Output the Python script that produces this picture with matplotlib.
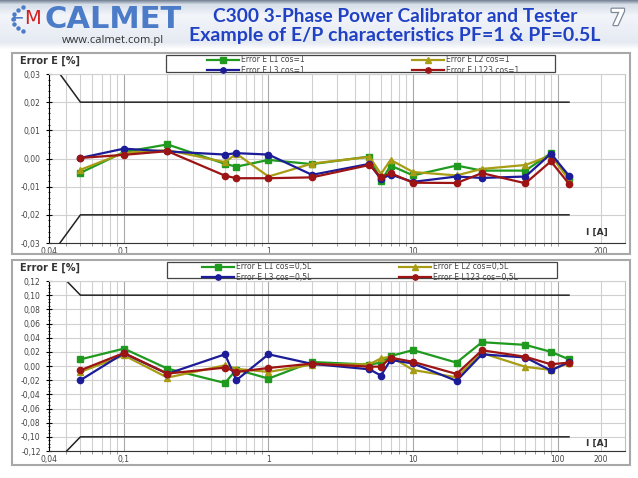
import numpy as np
import matplotlib
matplotlib.use("Agg")
import matplotlib.pyplot as plt
from matplotlib.patches import Rectangle
from matplotlib.lines import Line2D
import matplotlib.patheffects as pe

# measurement currents [A]
current = [0.05, 0.1, 0.2, 0.5, 0.6, 1, 2, 5, 6, 7, 10, 20, 30, 60, 90, 120]

# error E [%] at PF=1
pf1_l1 = [-0.0051, 0.0023, 0.0050, -0.0019, -0.0029, -0.0005, -0.0020, 0.0007,
          -0.0081, -0.0025, -0.0060, -0.0025, -0.0043, -0.0043, 0.0019, -0.0070]
pf1_l2 = [-0.0040, 0.0020, 0.0030, -0.0013, 0.0017, -0.0064, -0.0018, 0.0006,
          -0.0055, -0.0005, -0.0048, -0.0060, -0.0037, -0.0023, 0.0011, -0.0076]
pf1_l3 = [0.0002, 0.0035, 0.0025, 0.0014, 0.0019, 0.0014, -0.0058, -0.0019,
          -0.0073, -0.0057, -0.0083, -0.0064, -0.0069, -0.0064, 0.0017, -0.0061]
pf1_l123 = [0.0002, 0.0013, 0.0026, -0.0061, -0.0070, -0.0070, -0.0067, -0.0023,
            -0.0067, -0.0052, -0.0086, -0.0087, -0.0052, -0.0088, -0.0010, -0.0090]

# error E [%] at PF=0.5L
pf05_l1 = [0.0094, 0.0245, -0.0037, -0.0240, -0.0050, -0.0178, 0.0056, 0.0020,
           0.0048, 0.0140, 0.0225, 0.0048, 0.0336, 0.0298, 0.0200, 0.0094]
pf05_l2 = [-0.0084, 0.0150, -0.0164, 0.0010, -0.0040, -0.0084, 0.0020, 0.0024,
           0.0108, 0.0132, -0.0056, -0.0160, 0.0183, -0.0012, -0.0055, 0.0040]
pf05_l3 = [-0.0200, 0.0180, -0.0110, 0.0165, -0.0200, 0.0165, 0.0030, -0.0047,
           -0.0135, 0.0085, 0.0036, -0.0210, 0.0165, 0.0120, -0.0062, 0.0056]
pf05_l123 = [-0.0060, 0.0183, -0.0107, -0.0023, -0.0084, -0.0028, 0.0034, -0.0009,
             -0.0009, 0.0118, 0.0059, -0.0112, 0.0222, 0.0130, 0.0024, 0.0048]

# accuracy limit lines
limit_x = [0.03, 0.05, 120]
limit_pf1 = [0.0356, 0.02, 0.02]
limit_pf05 = [0.1466, 0.10, 0.10]

labels_pf1 = ["Error E L1 cos=1", "Error E L2 cos=1", "Error E L3 cos=1", "Error E L123 cos=1"]
labels_pf05 = ["Error E L1 cos=0,5L", "Error E L2 cos=0,5L", "Error E L3 cos=0,5L", "Error E L123 cos=0,5L"]

colors = ['#1f9a1f', '#a89c14', '#1c1c98', '#9c1414']
markers = ['s', '^', 'o', 'o']
msizes = [5, 5, 4.5, 4.5]

W, H = 638, 478
fig = plt.figure(figsize=(W / 100, H / 100), dpi=100)


def fx(px):
    return px / W


def fy(py):
    return 1 - py / H


# header background
hdr = fig.add_axes([0, fy(50), 1, 50 / H])
rows = np.linspace(0, 1, 50)
stops_y = [0, 0.08, 0.3, 0.85, 1.0]
stops_c = [(0.48, 0.53, 0.60), (0.84, 0.87, 0.91), (0.95, 0.96, 0.98), (0.90, 0.92, 0.95), (1, 1, 1)]
grad = np.array([[np.interp(r, stops_y, [c[k] for c in stops_c]) for k in range(3)] for r in rows])
hdr.imshow(grad[:, None, :], aspect='auto')
hdr.axis('off')

logo_blue = '#4c7cc8'
ang = np.radians(np.linspace(110, 250, 7))
fig.add_artist(Line2D(fx(28 + 15 * np.cos(ang)), fy(19 - 13 * np.sin(ang)), transform=fig.transFigure,
                      ls='none', marker='o', ms=2.2, color=logo_blue))
fig.text(fx(17), fy(18), '\u2190', fontsize=10, color=logo_blue, ha='center', va='center', fontweight='bold')
fig.text(fx(32), fy(19), 'M', fontsize=14, color='#d42020', ha='center', va='center')
fig.text(fx(45), fy(19), 'CALMET', fontsize=22, fontweight='bold', color=logo_blue, ha='left', va='center')
fig.text(fx(62), fy(41), 'www.calmet.com.pl', fontsize=8, color='#333333', ha='left', va='center',
         family='Open Sans')

title_blue = '#2141c4'
fig.text(fx(395), fy(17), 'C300 3-Phase Power Calibrator and Tester', fontsize=13.8, fontweight='bold',
         color=title_blue, ha='center', va='center', family='Lato')
fig.text(fx(395), fy(36), 'Example of E/P characteristics PF=1 & PF=0.5L', fontsize=14, fontweight='bold',
         color=title_blue, ha='center', va='center', family='Lato')
fig.text(fx(618), fy(19), '7', fontsize=16, fontweight='bold', color='white', ha='center', va='center',
         path_effects=[pe.withStroke(linewidth=1.8, foreground='#7d8898')])

grid_x = [v * d for d in (0.01, 0.1, 1, 10) for v in range(1, 10) if v * d >= 0.04] + [100, 200]
decades = [0.1, 1, 10, 100]
xmin, xmax = 0.0303, 293


def draw_chart(ax, frame, legend_box, leg_x, colspace, label_y, unit_y, series, labels, limit,
               ylim, ystep, yminor, xticks, xlabels):
    fig.add_artist(Rectangle((fx(frame[0]), fy(frame[3])), fx(frame[2]) - fx(frame[0]),
                             (frame[3] - frame[1]) / H, transform=fig.transFigure,
                             fill=False, edgecolor='#a8a8a8', lw=1.5))
    ax.set_xscale('log')
    ax.set_xlim(xmin, xmax)
    ax.set_ylim(-ylim, ylim)
    for g in grid_x:
        ax.axvline(g, color='#a8a8a8' if g in decades else '#d0d0d0', lw=0.8, zorder=0)
    yt = np.arange(-ylim, ylim + ystep / 2, ystep)
    for v in yt:
        ax.axhline(v, color='#d0d0d0', lw=0.8, zorder=0)
    ax.set_yticks(yt)
    ax.set_yticklabels([('%.2f' % v).replace('.', ',').replace('-0,00', '0,00') for v in yt])
    ax.set_yticks(np.arange(-ylim, ylim + yminor / 2, yminor), minor=True)
    ax.set_xticks(xticks)
    ax.set_xticklabels(xlabels)
    ax.set_xticks(grid_x, minor=True)
    ax.xaxis.set_minor_formatter(plt.NullFormatter())
    ax.tick_params(axis='y', which='major', direction='inout', length=4, width=0.8, pad=4,
                   labelsize=5.5, labelcolor='#444444')
    ax.tick_params(axis='y', which='minor', direction='inout', length=2, width=0.6)
    ax.tick_params(axis='x', which='major', length=0, pad=3, labelsize=5.5, labelcolor='#444444')
    ax.tick_params(axis='x', which='minor', direction='out', length=2, width=0.6, color='#888888')
    ax.spines['left'].set_color('black')
    ax.spines['bottom'].set_color('#333333')
    ax.spines['top'].set_color('#d0d0d0')
    ax.spines['right'].set_color('#c0c0c0')

    ax.plot(limit_x, limit, color='#222222', lw=1.1, zorder=2)
    ax.plot(limit_x, [-v for v in limit], color='#222222', lw=1.1, zorder=2)

    lines = []
    for vals, c, m, ms in zip(series, colors, markers, msizes):
        ln, = ax.plot(current, vals, color=c, marker=m, ms=ms, lw=1.6, zorder=3, clip_on=False)
        lines.append(ln)

    fig.add_artist(Rectangle((fx(legend_box[0]), fy(legend_box[3])), fx(legend_box[2]) - fx(legend_box[0]),
                             (legend_box[3] - legend_box[1]) / H, transform=fig.transFigure,
                             facecolor='white', edgecolor='#444444', lw=0.9))
    order = [0, 2, 1, 3]
    fig.legend([lines[i] for i in order], [labels[i] for i in order], ncol=2, loc='upper left',
               bbox_to_anchor=(fx(leg_x), fy(legend_box[1] + 0.5)), frameon=False,
               handlelength=4.2, handletextpad=0.3, columnspacing=colspace, labelspacing=0.2,
               borderpad=0, borderaxespad=0, prop={'size': 5.5}, markerscale=0.85,
               labelcolor='#444444')

    fig.text(fx(20), fy(label_y), 'Error E [%]', fontsize=7, fontweight='bold', color='#333333',
             ha='left', va='center')
    fig.text(fx(586), fy(unit_y), 'I [A]', fontsize=6.5, fontweight='bold', color='#333333',
             ha='left', va='center')


ax1 = fig.add_axes([fx(49), fy(243), (625 - 49) / W, (243 - 74) / H])
draw_chart(ax1, (12, 53, 630, 254), (166, 55, 555, 72), 207, 14.0, 61, 232,
           [pf1_l1, pf1_l2, pf1_l3, pf1_l123], labels_pf1, limit_pf1, 0.03, 0.01, 0.002,
           [xmin, 0.1, 1, 10, 200], ['0,04', '0,1', '1', '10', '200'])

ax2 = fig.add_axes([fx(49), fy(451), (625 - 49) / W, (451 - 281) / H])
draw_chart(ax2, (12, 260, 630, 465), (167, 262, 557, 278), 202, 11.4, 268, 443,
           [pf05_l1, pf05_l2, pf05_l3, pf05_l123], labels_pf05, limit_pf05, 0.12, 0.02, 0.005,
           [xmin, 0.1, 1, 10, 100, 200], ['0,04', '0,1', '1', '10', '100', '200'])

fig.savefig('out.png', dpi=100)
